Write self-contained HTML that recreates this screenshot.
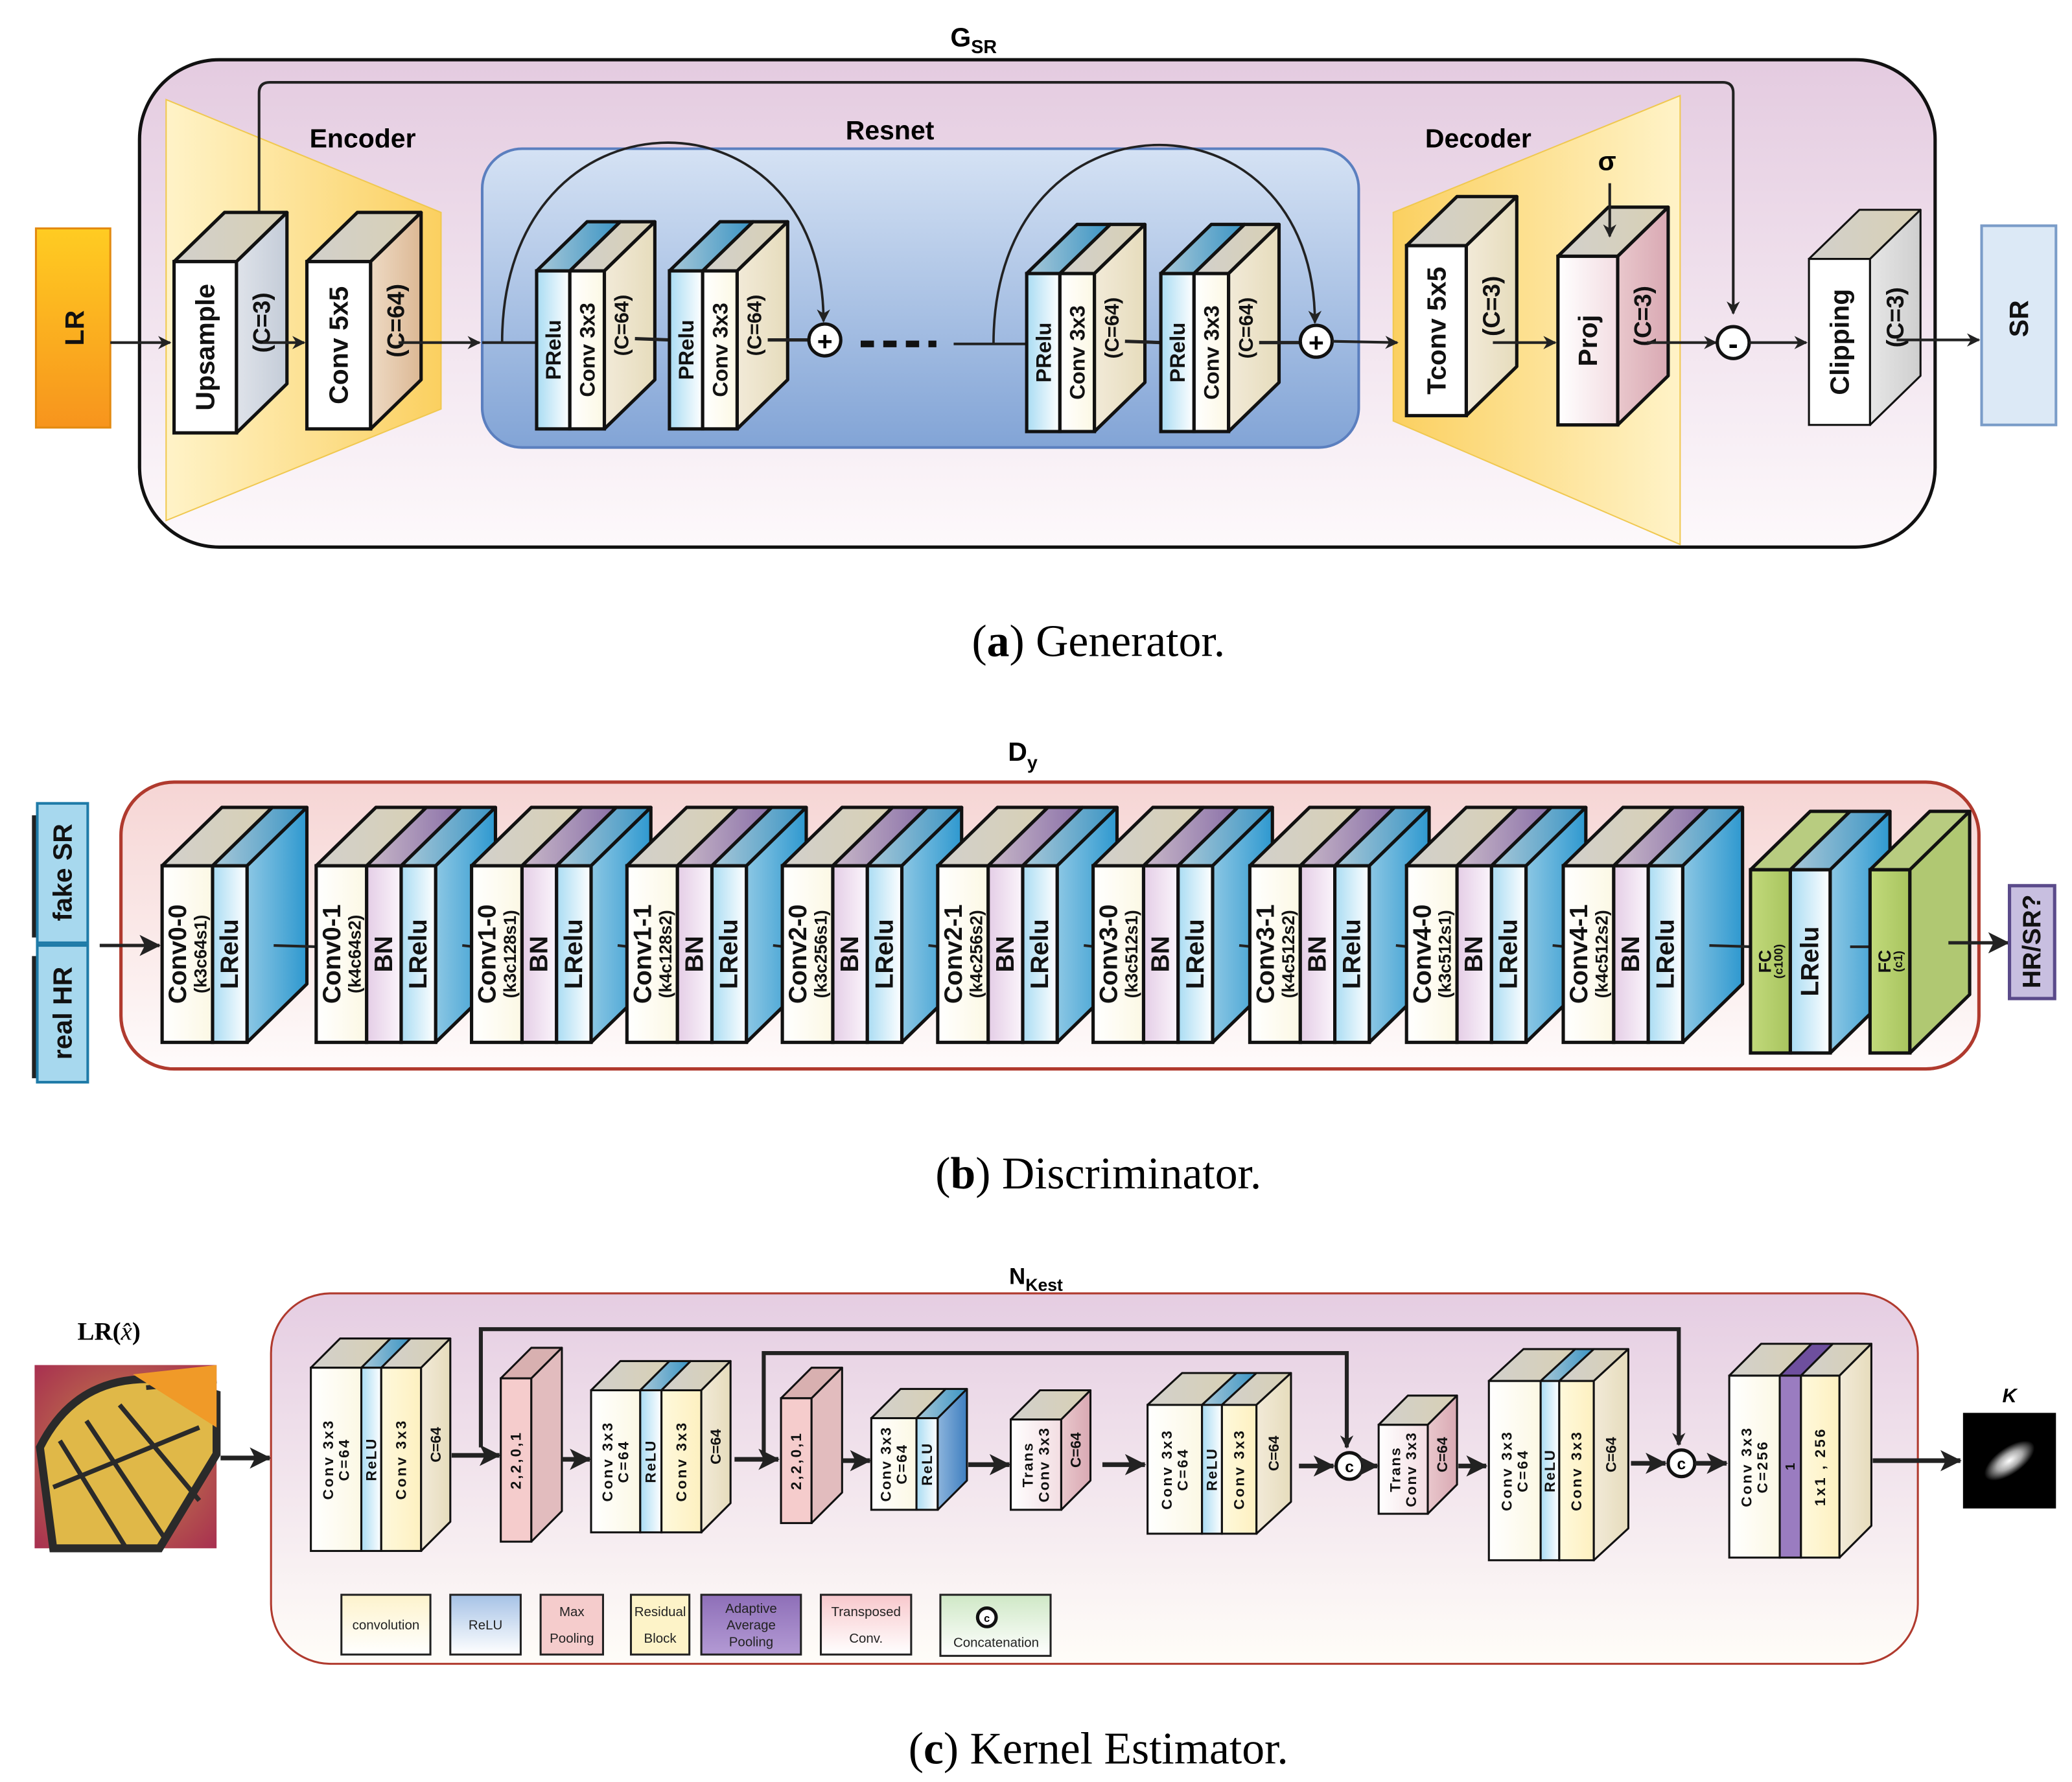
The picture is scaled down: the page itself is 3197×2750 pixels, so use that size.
<!DOCTYPE html>
<html><head><meta charset="utf-8"><style>
html,body{margin:0;padding:0;background:#fff}
svg{display:block}
</style></head><body>
<svg id="s" xmlns="http://www.w3.org/2000/svg" width="3197" height="2750" viewBox="0 0 1560 1342" font-family="Liberation Sans, sans-serif">
<defs>
<linearGradient id="gOuter" x1="0" y1="0" x2="0" y2="1"><stop offset="0" stop-color="#e4cbe0"/><stop offset="1" stop-color="#fdf9fb"/></linearGradient>
<linearGradient id="gLR" x1="0" y1="0" x2="0" y2="1"><stop offset="0" stop-color="#ffcc22"/><stop offset="1" stop-color="#f7941d"/></linearGradient>
<linearGradient id="gTrap" x1="0" y1="0" x2="1" y2="0"><stop offset="0" stop-color="#fff3c8"/><stop offset="1" stop-color="#fbd060"/></linearGradient>
<linearGradient id="gTrap2" x1="0" y1="0" x2="1" y2="0"><stop offset="0" stop-color="#fbd060"/><stop offset="1" stop-color="#fff3c8"/></linearGradient>
<linearGradient id="gRes" x1="0" y1="0" x2="0" y2="1"><stop offset="0" stop-color="#d5e2f4"/><stop offset="1" stop-color="#82a4d6"/></linearGradient>
<linearGradient id="gD" x1="0" y1="0" x2="0" y2="1"><stop offset="0" stop-color="#f6d5d4"/><stop offset="1" stop-color="#fefbfb"/></linearGradient>
<linearGradient id="gK" x1="0" y1="0" x2="0" y2="1"><stop offset="0" stop-color="#e5cde2"/><stop offset="1" stop-color="#fffdf8"/></linearGradient>
<linearGradient id="gLB" x1="0" y1="0" x2="1" y2="0"><stop offset="0" stop-color="#a9dcf3"/><stop offset="1" stop-color="#ffffff"/></linearGradient>
<linearGradient id="gBlueSide" x1="0" y1="0" x2="1" y2="0"><stop offset="0" stop-color="#8cc7e4"/><stop offset="1" stop-color="#2e98cf"/></linearGradient>
<linearGradient id="gBlueTop" x1="0" y1="0" x2="1" y2="0"><stop offset="0" stop-color="#a8c8d8"/><stop offset="1" stop-color="#3a94c4"/></linearGradient>
<linearGradient id="gPurTop" x1="0" y1="0" x2="1" y2="0"><stop offset="0" stop-color="#c8b8c8"/><stop offset="1" stop-color="#8a70a8"/></linearGradient>
<linearGradient id="gBeige" x1="0" y1="0" x2="1" y2="0"><stop offset="0" stop-color="#f2ead8"/><stop offset="1" stop-color="#e6dcbc"/></linearGradient>
<linearGradient id="gTopG" x1="0" y1="0" x2="1" y2="0"><stop offset="0" stop-color="#d2d0cc"/><stop offset="1" stop-color="#d8d0b4"/></linearGradient>
<linearGradient id="gCream" x1="0" y1="0" x2="1" y2="0"><stop offset="0" stop-color="#ffffff"/><stop offset="1" stop-color="#fcf8e4"/></linearGradient>
<linearGradient id="gLav" x1="0" y1="0" x2="1" y2="0"><stop offset="0" stop-color="#e4cde6"/><stop offset="1" stop-color="#fbf5fb"/></linearGradient>
<linearGradient id="gGreen" x1="0" y1="0" x2="1" y2="0"><stop offset="0" stop-color="#c2da7c"/><stop offset="1" stop-color="#a8c45e"/></linearGradient>
<linearGradient id="gPink" x1="0" y1="0" x2="1" y2="0"><stop offset="0" stop-color="#ffffff"/><stop offset="1" stop-color="#f3dde2"/></linearGradient>
<linearGradient id="gPinkSide" x1="0" y1="0" x2="1" y2="0"><stop offset="0" stop-color="#e9c7cc"/><stop offset="1" stop-color="#d9a9b3"/></linearGradient>
<linearGradient id="gOrSide" x1="0" y1="0" x2="1" y2="0"><stop offset="0" stop-color="#eedac4"/><stop offset="1" stop-color="#dcb894"/></linearGradient>
<linearGradient id="gGraySide" x1="0" y1="0" x2="1" y2="0"><stop offset="0" stop-color="#e6e6e6"/><stop offset="1" stop-color="#cfcfcf"/></linearGradient>
<linearGradient id="gUpSide" x1="0" y1="0" x2="1" y2="0"><stop offset="0" stop-color="#dfe3ea"/><stop offset="1" stop-color="#c4ccd8"/></linearGradient>
<linearGradient id="gRelu" x1="0" y1="0" x2="0" y2="1"><stop offset="0" stop-color="#a6c2e6"/><stop offset="1" stop-color="#ffffff"/></linearGradient>
<linearGradient id="gAvg" x1="0" y1="0" x2="0" y2="1"><stop offset="0" stop-color="#8e6fb8"/><stop offset="1" stop-color="#b39ad4"/></linearGradient>
<linearGradient id="gTr" x1="0" y1="0" x2="0" y2="1"><stop offset="0" stop-color="#f8c8cc"/><stop offset="1" stop-color="#ffffff"/></linearGradient>
<linearGradient id="gCat" x1="0" y1="0" x2="0" y2="1"><stop offset="0" stop-color="#cfe8c6"/><stop offset="1" stop-color="#ffffff"/></linearGradient>
<linearGradient id="gConvL" x1="0" y1="0" x2="0" y2="1"><stop offset="0" stop-color="#fdf3cc"/><stop offset="1" stop-color="#ffffff"/></linearGradient>
<linearGradient id="gKBlue" x1="0" y1="0" x2="1" y2="0"><stop offset="0" stop-color="#8cb4dc"/><stop offset="1" stop-color="#3f7fc0"/></linearGradient>
<linearGradient id="gYel" x1="0" y1="0" x2="1" y2="0"><stop offset="0" stop-color="#fff9dc"/><stop offset="1" stop-color="#fdf0c0"/></linearGradient>
<radialGradient id="gBlob" cx="0.5" cy="0.5" r="0.5"><stop offset="0" stop-color="#fff"/><stop offset="0.5" stop-color="#aaa"/><stop offset="1" stop-color="#000"/></radialGradient>
<radialGradient id="gBf" cx="0.5" cy="0.5" r="0.7"><stop offset="0" stop-color="#c89048"/><stop offset="1" stop-color="#a83050"/></radialGradient>
<marker id="ar" markerWidth="10" markerHeight="10" refX="9" refY="5" orient="auto" markerUnits="userSpaceOnUse"><path d="M0,0 L10,5 L0,10 L3,5 z" fill="#222"/></marker>
<marker id="arB" markerWidth="16" markerHeight="16" refX="15" refY="8" orient="auto" markerUnits="userSpaceOnUse"><path d="M0,0 L16,8 L0,16 L4,8 z" fill="#222"/></marker>
</defs>
<g id="root"></g>
</svg>
<script>
var S=[];
function p(s){S.push(s);}
function tr(x,y,t,fs,opt){opt=opt||{};p('<text transform="translate('+x+','+y+') rotate(-90)" text-anchor="middle" dominant-baseline="central" font-size="'+fs+'" font-weight="'+(opt.w||'bold')+'" fill="#111"'+(opt.ls?' letter-spacing="'+opt.ls+'"':'')+'>'+t+'</text>');}
function blk(x,y,h,dx,dy,L,side,sw,st){
 var cx=x;
 for(var i=0;i<L.length;i++){var l=L[i];
  p('<polygon points="'+cx+','+y+' '+(cx+l.w)+','+y+' '+(cx+l.w+dx)+','+(y+dy)+' '+(cx+dx)+','+(y+dy)+'" fill="'+(l.top||'url(#gTopG)')+'" stroke="#111" stroke-width="'+(sw||2)+'" stroke-linejoin="round"/>');
  p('<rect x="'+cx+'" y="'+y+'" width="'+l.w+'" height="'+h+'" fill="'+l.fill+'" stroke="#111" stroke-width="'+(sw||2)+'"/>');
  cx+=l.w;}
 p('<polygon points="'+cx+','+y+' '+(cx+dx)+','+(y+dy)+' '+(cx+dx)+','+(y+dy+h)+' '+cx+','+(y+h)+'" fill="'+side+'" stroke="#111" stroke-width="'+(sw||2)+'" stroke-linejoin="round"/>');
 var ex=cx; cx=x;
 for(var i=0;i<L.length;i++){var l=L[i];
  if(l.t)l.t.forEach(function(q){tr(cx+l.w/2+(q[2]||0),y+h/2+(q[3]||0),q[0],q[1],q[4]);});
  cx+=l.w;}
 if(st)st.forEach(function(q){tr(ex+dx/2+(q[2]||0),y+h/2+dy/2+(q[3]||0),q[0],q[1],q[4]);});
}
function ln(x1,y1,x2,y2,w,m){p('<line x1="'+x1+'" y1="'+y1+'" x2="'+x2+'" y2="'+y2+'" stroke="#222" stroke-width="'+(w||2)+'"'+(m?' marker-end="url(#'+m+')"':'')+'/>');}
function circ(x,y,r,t,fs){p('<circle cx="'+x+'" cy="'+y+'" r="'+r+'" fill="#fff" stroke="#111" stroke-width="2.5"/><text x="'+x+'" y="'+(y+1)+'" text-anchor="middle" dominant-baseline="central" font-size="'+fs+'" font-weight="bold">'+t+'</text>');}
var SERIF='font-family="Liberation Serif, serif"';

/* ============ GENERATOR ============ */
p('<text x="733" y="35" text-anchor="middle" font-size="20" font-weight="bold">G<tspan font-size="14" dy="5">SR</tspan></text>');
p('<rect x="105" y="45" width="1352" height="367" rx="60" fill="url(#gOuter)" stroke="#111" stroke-width="2.5"/>');
p('<rect x="27" y="172" width="56" height="150" fill="url(#gLR)" stroke="#e38a10" stroke-width="1.5"/>');
tr(56,247,'LR',20);
p('<polygon points="125,75 332,160 332,308 125,392" fill="url(#gTrap)" stroke="#f0c850" stroke-width="1"/>');
p('<text x="273" y="111" text-anchor="middle" font-size="20" font-weight="bold">Encoder</text>');
p('<polygon points="1049,160 1265,72 1265,410 1049,317" fill="url(#gTrap2)" stroke="#f0c850" stroke-width="1"/>');
p('<text x="1113" y="111" text-anchor="middle" font-size="20" font-weight="bold">Decoder</text>');
p('<rect x="363" y="112" width="660" height="225" rx="30" fill="url(#gRes)" stroke="#5b7fbf" stroke-width="2"/>');
p('<text x="670" y="105" text-anchor="middle" font-size="20" font-weight="bold">Resnet</text>');
p('<path d="M195,162 V70 Q195,62 203,62 H1297 Q1305,62 1305,70 V236" fill="none" stroke="#222" stroke-width="2" marker-end="url(#ar)"/>');
ln(83,258,128,258,2,'ar');
blk(131,197,129,38,-37,[{w:47,fill:'#fff',t:[['Upsample',20,0]]}],'url(#gUpSide)',2.5,[['(C=3)',18,0]]);
ln(198,258,229,258,2,'ar');
blk(231,197,126,38,-37,[{w:48,fill:'#fff',t:[['Conv 5x5',20,0]]}],'url(#gOrSide)',2.5,[['(C=64)',18,0]]);
ln(300,258,361,258,2,'ar');
function rb(x,y){blk(x,y,119,38,-37,[{w:25,fill:'url(#gLB)',top:'url(#gBlueTop)',t:[['PRelu',16,0]]},{w:26,fill:'url(#gCream)',t:[['Conv 3x3',16,0]]}],'url(#gBeige)',2.5,[['(C=64)',15,-6]]);}
ln(363,258,404,258,2);
rb(404,204);ln(478,255,504,256,2.5);rb(504,204);ln(578,256,608,256,2.5);
circ(621,256,12,'+',20);
p('<path d="M378,258 C378,60 620,60 620,242" fill="none" stroke="#222" stroke-width="1.8" marker-end="url(#ar)"/>');
p('<line x1="648" y1="259" x2="705" y2="259" stroke="#111" stroke-width="5" stroke-dasharray="10,7"/>');
ln(718,259,773,259,2);
rb(773,206);ln(847,257,874,258,2.5);rb(874,206);ln(948,258,979,258,2.5);
circ(991,257,12,'+',20);
p('<path d="M748,259 C748,62 990,62 990,243" fill="none" stroke="#222" stroke-width="1.8" marker-end="url(#ar)"/>');
ln(1003,257,1052,258,2,'ar');
blk(1059,185,128,38,-37,[{w:45,fill:'#fff',t:[['Tconv 5x5',20,0]]}],'url(#gBeige)',2.5,[['(C=3)',18,0]]);
ln(1124,258,1171,258,2,'ar');
blk(1173,193,127,38,-37,[{w:45,fill:'url(#gPink)',t:[['Proj',20,0]]}],'url(#gPinkSide)',2.5,[['(C=3)',18,0]]);
p('<text x="1210" y="128" text-anchor="middle" font-size="20" font-weight="bold">σ</text>');
ln(1212,138,1212,178,2,'ar');
ln(1240,258,1292,258,2,'ar');
circ(1305,258,12,'-',22);
ln(1317,258,1360,258,2,'ar');
blk(1362,195,125,38,-37,[{w:46,fill:'#fff',t:[['Clipping',20,0]]}],'url(#gGraySide)',1.5,[['(C=3)',18,0]]);
ln(1428,256,1490,256,2,'ar');
p('<rect x="1492" y="170" width="56" height="150" fill="#dce9f6" stroke="#7a9cc8" stroke-width="2"/>');
tr(1520,240,'SR',20);
p('<text x="827" y="494" text-anchor="middle" '+SERIF+' font-size="34">(<tspan font-weight="bold">a</tspan>) Generator.</text>');

/* ============ DISCRIMINATOR ============ */
p('<text x="770" y="573" text-anchor="middle" font-size="20" font-weight="bold">D<tspan font-size="14" dy="6">y</tspan></text>');
p('<rect x="91" y="589" width="1399" height="216" rx="40" fill="url(#gD)" stroke="#b03a2e" stroke-width="2.5"/>');
p('<rect x="24" y="614" width="4" height="92" fill="#222"/><rect x="24" y="720" width="4" height="92" fill="#222"/>');
p('<rect x="28" y="605" width="38" height="105" fill="#a7d8ee" stroke="#1f7ba8" stroke-width="2"/>');
p('<rect x="28" y="712" width="38" height="103" fill="#a7d8ee" stroke="#1f7ba8" stroke-width="2"/>');
tr(47,657,'fake SR',20);tr(47,763,'real HR',20);
ln(75,712,120,712,2.5,'arB');
var names=[['Conv0-0','(k3c64s1)'],['Conv0-1','(k4c64s2)'],['Conv1-0','(k3c128s1)'],['Conv1-1','(k4c128s2)'],['Conv2-0','(k3c256s1)'],['Conv2-1','(k4c256s2)'],['Conv3-0','(k3c512s1)'],['Conv3-1','(k4c512s2)'],['Conv4-0','(k3c512s1)'],['Conv4-1','(k4c512s2)']];
var xs=[122,238,355,472,589,706,823,941,1059,1177];
for(var i=0;i<10;i++){
 var L=[{w:38,fill:'url(#gCream)',t:[[names[i][0],19,-7],[names[i][1],13,10]]}];
 if(i>0)L.push({w:26,fill:'url(#gLav)',top:'url(#gPurTop)',t:[['BN',19,0]]});
 L.push({w:26,fill:'url(#gLB)',top:'url(#gBlueTop)',t:[['LRelu',19,0]]});
 blk(xs[i],652,133,45,-44,L,'url(#gBlueSide)',2.5);
 var end=xs[i]+38+(i>0?52:26);
 ln(end+20,712,(i<9?xs[i+1]:1318)+2,713,2);
}
blk(1318,655,138,45,-44,[{w:30,fill:'url(#gGreen)',top:'#b8cc80',t:[['FC',13,-4],['(c100)',9,6]]},{w:30,fill:'url(#gLB)',top:'url(#gBlueTop)',t:[['LRelu',19,0]]}],'url(#gBlueSide)',2.5);
ln(1393,713,1408,713,2);
blk(1408,655,138,45,-44,[{w:30,fill:'url(#gGreen)',top:'#b8cc80',t:[['FC',13,-4],['(c1)',9,6]]}],'#b0c872',2.5);
ln(1467,710,1512,710,2.5,'arB');
p('<rect x="1513" y="667" width="34" height="85" fill="#c8bfe0" stroke="#5a4a8a" stroke-width="2.5"/>');
tr(1530,709,'HR/SR?',19);
p('<text x="827" y="895" text-anchor="middle" '+SERIF+' font-size="34">(<tspan font-weight="bold">b</tspan>) Discriminator.</text>');

/* ============ KERNEL ESTIMATOR ============ */
p('<text x="780" y="967" text-anchor="middle" font-size="17" font-weight="bold">N<tspan font-size="13" dy="5">Kest</tspan></text>');
p('<rect x="204" y="974" width="1240" height="279" rx="45" fill="url(#gK)" stroke="#b03a2e" stroke-width="1.5"/>');
p('<text x="82" y="1009" text-anchor="middle" '+SERIF+' font-size="19" font-weight="bold">LR(<tspan font-style="italic" font-weight="normal">x̂</tspan>)</text>');
p('<rect x="26" y="1028" width="137" height="138" fill="url(#gBf)"/>');
p('<path d="M30,1090 Q60,1030 130,1040 L163,1050 L163,1095 L120,1166 L40,1166 z" fill="#e0b848" stroke="#2a2a2a" stroke-width="6"/>');
p('<path d="M45,1085 L95,1166 M65,1070 L125,1160 M90,1058 L150,1130 M40,1120 L150,1075 M110,1045 L163,1040" stroke="#2a2a2a" stroke-width="3.5" fill="none"/>');
p('<path d="M100,1035 L163,1028 L163,1075 z" fill="#f09a28"/>');
ln(166,1098,203,1098,3.5,'arB');
var cr='url(#gCream)',yl='url(#gYel)',kb='url(#gKBlue)';
blk(234,1030,138,22,-22,[{w:38,fill:cr,t:[['Conv 3x3',11,-6,0,{ls:1.5}],['C=64',11,6,0,{ls:1.5}]]},{w:15,fill:'url(#gLB)',top:'url(#gBlueTop)',t:[['ReLU',11,0,0,{ls:1}]]},{w:30,fill:yl,t:[['Conv 3x3',11,0,0,{ls:1.5}]]}],'url(#gBeige)',1.5,[['C=64',11,0]]);
ln(340,1096,376,1096,3.5,'arB');
blk(377,1038,123,23,-23,[{w:23,fill:'#f5cccc',top:'#d8b0b0',t:[['2,2,0,1',11,0,0,{ls:1.5}]]}],'#e2bcbe',1.5);
ln(423,1099,444,1099,3.5,'arB');
blk(445,1047,107,22,-22,[{w:37,fill:cr,t:[['Conv 3x3',11,-6,0,{ls:1.5}],['C=64',11,6,0,{ls:1.5}]]},{w:16,fill:'url(#gLB)',top:'url(#gBlueTop)',t:[['ReLU',11,0,0,{ls:1}]]},{w:30,fill:yl,t:[['Conv 3x3',11,0,0,{ls:1.5}]]}],'url(#gBeige)',1.5,[['C=64',11,0]]);
ln(553,1099,586,1099,3.5,'arB');
blk(588,1053,94,23,-23,[{w:23,fill:'#f5cccc',top:'#d8b0b0',t:[['2,2,0,1',11,0,0,{ls:1.5}]]}],'#e2bcbe',1.5);
ln(634,1100,655,1100,3.5,'arB');
blk(656,1068,69,22,-22,[{w:34,fill:cr,t:[['Conv 3x3',11,-6,0,{ls:1}],['C=64',11,6,0,{ls:1}]]},{w:16,fill:'url(#gLB)',top:'url(#gBlueTop)',t:[['ReLU',11,0,0,{ls:1}]]}],kb,1.5);
ln(729,1103,760,1103,3.5,'arB');
blk(761,1069,68,22,-22,[{w:38,fill:'url(#gPink)',t:[['Trans',11,-6,0,{ls:1}],['Conv 3x3',11,6,0,{ls:1}]]}],'url(#gPinkSide)',1.5,[['C=64',11,0]]);
ln(830,1103,862,1103,3.5,'arB');
blk(864,1058,97,26,-24,[{w:41,fill:cr,t:[['Conv 3x3',11,-6,0,{ls:1.5}],['C=64',11,6,0,{ls:1.5}]]},{w:15,fill:'url(#gLB)',top:'url(#gBlueTop)',t:[['ReLU',11,0,0,{ls:1}]]},{w:26,fill:yl,t:[['Conv 3x3',11,0,0,{ls:1.5}]]}],'url(#gBeige)',1.5,[['C=64',11,0]]);
ln(978,1104,1004,1104,3.5,'arB');
circ(1016,1104,10,'c',12);
ln(1026,1104,1037,1104,3.5,'arB');
blk(1038,1073,67,22,-22,[{w:37,fill:'url(#gPink)',t:[['Trans',11,-6,0,{ls:1}],['Conv 3x3',11,6,0,{ls:1}]]}],'url(#gPinkSide)',1.5,[['C=64',11,0]]);
ln(1098,1104,1119,1104,3.5,'arB');
blk(1121,1040,135,26,-24,[{w:39,fill:cr,t:[['Conv 3x3',11,-6,0,{ls:1.5}],['C=64',11,6,0,{ls:1.5}]]},{w:14,fill:'url(#gLB)',top:'url(#gBlueTop)',t:[['ReLU',11,0,0,{ls:1}]]},{w:26,fill:yl,t:[['Conv 3x3',11,0,0,{ls:1.5}]]}],'url(#gBeige)',1.5,[['C=64',11,0]]);
ln(1228,1102,1254,1102,3.5,'arB');
circ(1266,1102,10,'c',12);
ln(1276,1102,1300,1102,3.5,'arB');
blk(1302,1036,137,24,-24,[{w:38,fill:cr,t:[['Conv 3x3',11,-6,0,{ls:1.5}],['C=256',11,6,0,{ls:1.5}]]},{w:16,fill:'#9a7cc0',top:'#6e4f9e',t:[['1',10,0]]},{w:29,fill:yl,t:[['1x1 , 256',11,0,0,{ls:1.5}]]}],'url(#gBeige)',1.5);
p('<path d="M362,1090 V1001 H1264 V1088" fill="none" stroke="#222" stroke-width="3" marker-end="url(#ar)"/>');
p('<path d="M575,1095 V1019 H1014 V1090" fill="none" stroke="#222" stroke-width="3" marker-end="url(#ar)"/>');
ln(1410,1100,1476,1100,3.5,'arB');
p('<text x="1513" y="1056" text-anchor="middle" font-size="15" font-weight="bold" font-style="italic">K</text>');
p('<rect x="1478" y="1064" width="70" height="72" fill="#000"/>');
p('<ellipse cx="1513" cy="1100" rx="22" ry="10" transform="rotate(-35 1513 1100)" fill="url(#gBlob)"/>');
function lg(x,w,fill,lines){p('<rect x="'+x+'" y="1201" width="'+w+'" height="45" fill="'+fill+'" stroke="#222" stroke-width="1.5"/>');var n=lines.length;lines.forEach(function(t,i){var yy=1224+(i-(n-1)/2)*(n==3?12.5:20);p('<text x="'+(x+w/2)+'" y="'+yy+'" text-anchor="middle" dominant-baseline="central" font-size="10" fill="#222">'+t+'</text>');});}
lg(257,67,'url(#gConvL)',['convolution']);
lg(339,53,'url(#gRelu)',['ReLU']);
lg(407,47,'#f5cccc',['Max','Pooling']);
lg(475,44,'#fdf3c8',['Residual','Block']);
lg(528,75,'url(#gAvg)',['Adaptive','Average','Pooling']);
lg(618,68,'url(#gTr)',['Transposed','Conv.']);
p('<rect x="708" y="1201" width="83" height="46" fill="url(#gCat)" stroke="#222" stroke-width="1.5"/>');
p('<circle cx="743" cy="1218" r="7" fill="#fff" stroke="#111" stroke-width="2.5"/><text x="743" y="1219" text-anchor="middle" dominant-baseline="central" font-size="8" font-weight="bold">c</text>');
p('<text x="750" y="1237" text-anchor="middle" dominant-baseline="central" font-size="10" fill="#222">Concatenation</text>');
p('<text x="827" y="1328" text-anchor="middle" '+SERIF+' font-size="34">(<tspan font-weight="bold">c</tspan>) Kernel Estimator.</text>');
document.getElementById('root').innerHTML=S.join('');
</script>
</body></html>
